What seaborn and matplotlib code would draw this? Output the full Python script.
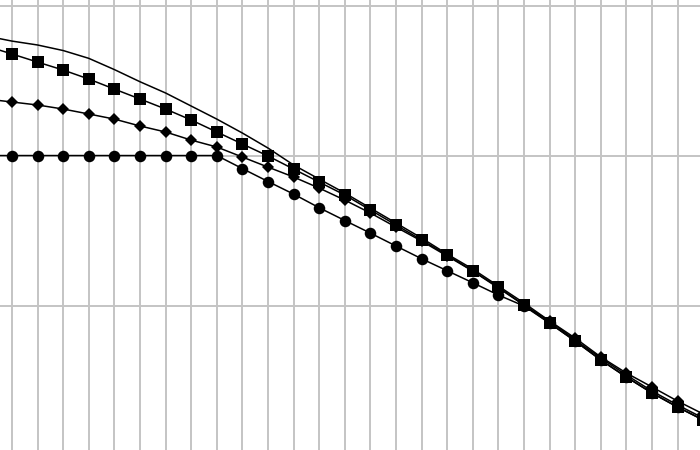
import numpy as np
import pandas as pd
import matplotlib
matplotlib.use("Agg")
import matplotlib.pyplot as plt
import seaborn as sns

# -----------------------------
# data (grid steps on x, grid lines at y = 0, 1, 2)
# -----------------------------
x_steps = list(range(-1, 28))

square_vals = [1.730, 1.677, 1.623, 1.570, 1.510, 1.443, 1.377, 1.310, 1.237, 1.157,
               1.077, 0.997, 0.910, 0.823, 0.737, 0.637, 0.537, 0.437, 0.337, 0.230,
               0.123, 0.003, -0.117, -0.237, -0.363, -0.477, -0.583, -0.677, -0.763]

diamond_vals = [1.377, 1.357, 1.337, 1.310, 1.277, 1.243, 1.197, 1.157, 1.103, 1.057,
                0.990, 0.923, 0.857, 0.783, 0.703, 0.617, 0.523, 0.430, 0.330, 0.230,
                0.117, 0.003, -0.103, -0.217, -0.343, -0.450, -0.543, -0.637, -0.723]

circle_vals = [1.0, 1.0, 1.0, 1.0, 1.0, 1.0, 1.0, 1.0, 1.0, 1.0,
               0.913, 0.827, 0.743, 0.652, 0.567, 0.483, 0.397, 0.312, 0.232, 0.152,
               0.070, -0.003, -0.117, -0.237, -0.363, -0.477, -0.583, -0.677, -0.763]

curve_vals = [1.797, 1.763, 1.737, 1.700, 1.648, 1.573, 1.492, 1.417, 1.330, 1.243,
              1.150, 1.050, 0.937, 0.843, 0.750, 0.650, 0.550, 0.450, 0.343, 0.243,
              0.130, 0.017, -0.103, -0.230, -0.350, -0.463, -0.570, -0.663, -0.750]

# -----------------------------
# plot
# -----------------------------
sns.set_theme(style="white")

fig = plt.figure(figsize=(7, 4.5), dpi=100)
ax = fig.add_axes([0, 0, 1, 1])

ax.set_xticks(range(0, 28))
ax.set_yticks([-1, 0, 1, 2])
ax.grid(True, color="#c4c4c4", linewidth=1.4)
ax.set_axisbelow(True)

line_kw = dict(color="black", linewidth=1.1, markeredgewidth=0, ax=ax, legend=False)
sns.lineplot(x=x_steps, y=circle_vals, marker="o", markersize=8.3, **line_kw)
sns.lineplot(x=x_steps, y=diamond_vals, marker="D", markersize=6.2, **line_kw)
sns.lineplot(x=x_steps, y=square_vals, marker="s", markersize=8.0, **line_kw)
sns.lineplot(x=x_steps, y=curve_vals, color="black", linewidth=1.1, ax=ax, legend=False)

ax.set_xlim(-0.469, 26.875)
ax.set_ylim(-0.963, 2.037)
ax.set_xticklabels([])
ax.set_yticklabels([])
ax.tick_params(length=0)
ax.set_xlabel("")
ax.set_ylabel("")
for s in ax.spines.values():
    s.set_visible(False)

fig.savefig("out.png", dpi=100)
plt.close(fig)
